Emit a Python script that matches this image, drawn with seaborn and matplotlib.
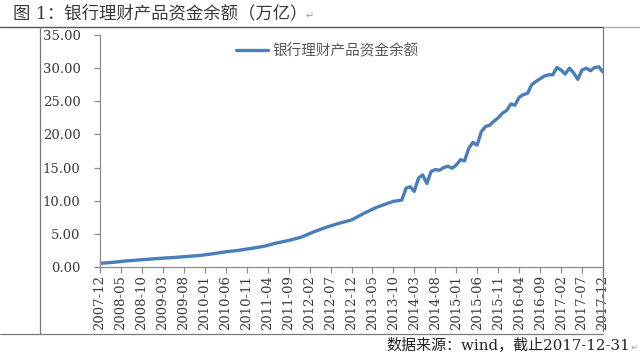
import matplotlib
matplotlib.use("Agg")
import matplotlib.pyplot as plt
from matplotlib.lines import Line2D
import seaborn as sns
import pandas as pd

# ---- data (万亿) ----
quarter_months = ["2007-12", "2008-03", "2008-06", "2008-09", "2008-12", "2009-03",
                  "2009-06", "2009-09", "2009-12", "2010-03", "2010-06", "2010-09",
                  "2010-12", "2011-03", "2011-06", "2011-09", "2011-12", "2012-03",
                  "2012-06", "2012-09", "2012-12", "2013-03", "2013-06", "2013-09"]
quarter_values = [0.55, 0.70, 0.90, 1.05, 1.20, 1.33, 1.45, 1.60, 1.75, 2.00, 2.30, 2.50,
                  2.80, 3.10, 3.60, 4.00, 4.50, 5.30, 6.00, 6.60, 7.10, 8.10, 9.00, 9.70]
monthly_start = "2013-10"
monthly_values = [9.90, 10.00, 10.10,                                  # 2013-10..12
                  11.90, 12.10, 11.40, 13.40, 13.90, 12.60,            # 2014
                  14.40, 14.70, 14.60, 15.00, 15.20, 14.90,
                  15.40, 16.20, 16.00, 17.90, 18.80, 18.40,            # 2015
                  20.40, 21.20, 21.40, 22.00, 22.50, 23.20,
                  23.60, 24.60, 24.40, 25.60, 26.00, 26.20,            # 2016
                  27.50, 28.00, 28.40, 28.80, 29.00, 29.00,
                  30.10, 29.70, 29.10, 30.00, 29.30, 28.30,            # 2017
                  29.70, 30.00, 29.60, 30.10, 30.20, 29.40]
series_name = "银行理财产品资金余额"
title_text = "图 1：银行理财产品资金余额（万亿）"
source_text = "数据来源：wind，截止2017-12-31"
y_ticks = [0, 5, 10, 15, 20, 25, 30, 35]

months = quarter_months + list(pd.period_range(monthly_start, periods=len(monthly_values), freq="M").strftime("%Y-%m"))
values = quarter_values + monthly_values
df = pd.DataFrame({"date": pd.to_datetime(months), series_name: values})

sns.set_theme(style="white")
plt.rcParams["font.family"] = ["DejaVu Serif", "Noto Sans CJK SC", "DejaVu Sans"]
plt.rcParams["axes.unicode_minus"] = False

W, H = 640, 358
fig = plt.figure(figsize=(W / 100, H / 100), dpi=100)
fig.patch.set_facecolor("white")
ax = fig.add_axes([100 / W, 1 - 267 / H, 503 / W, 232 / H])

line_color = "#4a7ebb"
sns.lineplot(data=df, x="date", y=series_name, ax=ax, color=line_color,
             linewidth=2.4, label=series_name)

ax.set_ylim(0, 35)
ax.set_yticks(y_ticks)
ax.set_yticklabels([f"{v:.2f}" for v in y_ticks])
ax.set_xlim(pd.Timestamp("2007-12-01"), pd.Timestamp("2017-12-01"))
xt = pd.date_range("2007-12-01", "2017-12-01", freq="5MS")
ax.set_xticks(xt)
ax.set_xticklabels([d.strftime("%Y-%m") for d in xt], rotation=90)
ax.set_xlabel("")
ax.set_ylabel("")

axis_grey = "#8c8c8c"
for s in ["top", "right"]:
    ax.spines[s].set_visible(False)
for s in ["left", "bottom"]:
    ax.spines[s].set_color(axis_grey)
    ax.spines[s].set_linewidth(0.9)
ax.tick_params(axis="y", which="major", direction="out", length=4, width=0.9,
               color=axis_grey, pad=10, labelsize=9.5, labelcolor="#3a3a3a", left=True)
ax.tick_params(axis="x", which="major", direction="out", length=4, width=0.9,
               color=axis_grey, pad=1.5, labelsize=9.5, labelcolor="#3a3a3a", bottom=True)
for lab in ax.get_xticklabels() + ax.get_yticklabels():
    lab.set_family(["DejaVu Serif"])

leg = ax.legend(loc="upper left", bbox_to_anchor=((230 - 100) / 503, 1.0 - (38 - 35) / 232),
                frameon=False, handlelength=2.2, handletextpad=0.3, borderaxespad=0,
                prop={"family": ["Noto Sans CJK SC"], "size": 10.5})
for t in leg.get_texts():
    t.set_color("#595959")

# title and frame lines
fig.text(13 / W, 1 - 14 / H, title_text, ha="left", va="center", fontsize=12.5,
         color="#3a3a3a", family=["DejaVu Serif", "Noto Sans CJK SC", "DejaVu Sans"])
fig.text(306 / W, 1 - 16 / H, "↵", ha="left", va="center", fontsize=7,
         color="#9a9a9a", family=["DejaVu Sans"])
frame_col = "#7a7a7a"
fig.add_artist(Line2D([0, 603 / W], [1 - 27 / H, 1 - 27 / H], color="#555555", lw=1.0))
fig.add_artist(Line2D([603 / W, 1], [1 - 27 / H, 1 - 27 / H], color="#b0b0b0", lw=1.0))
fig.add_artist(Line2D([40 / W, 40 / W], [1 - 27 / H, 1 - 334 / H], color=frame_col, lw=0.9))
fig.add_artist(Line2D([603 / W, 603 / W], [1 - 27 / H, 1 - 331 / H], color=frame_col, lw=0.9))
fig.add_artist(Line2D([0, 603 / W], [1 - 334 / H, 1 - 334 / H], color=frame_col, lw=0.9))

fig.text(630 / W, 1 - 345 / H, source_text, ha="right", va="center", fontsize=10.8,
         color="#222222", family=["DejaVu Serif", "Noto Sans CJK SC"])
fig.text(631 / W, 1 - 347 / H, "↵", ha="left", va="center", fontsize=6,
         color="#9a9a9a", family=["DejaVu Sans"])

fig.savefig("out.png", dpi=100, facecolor="white")
